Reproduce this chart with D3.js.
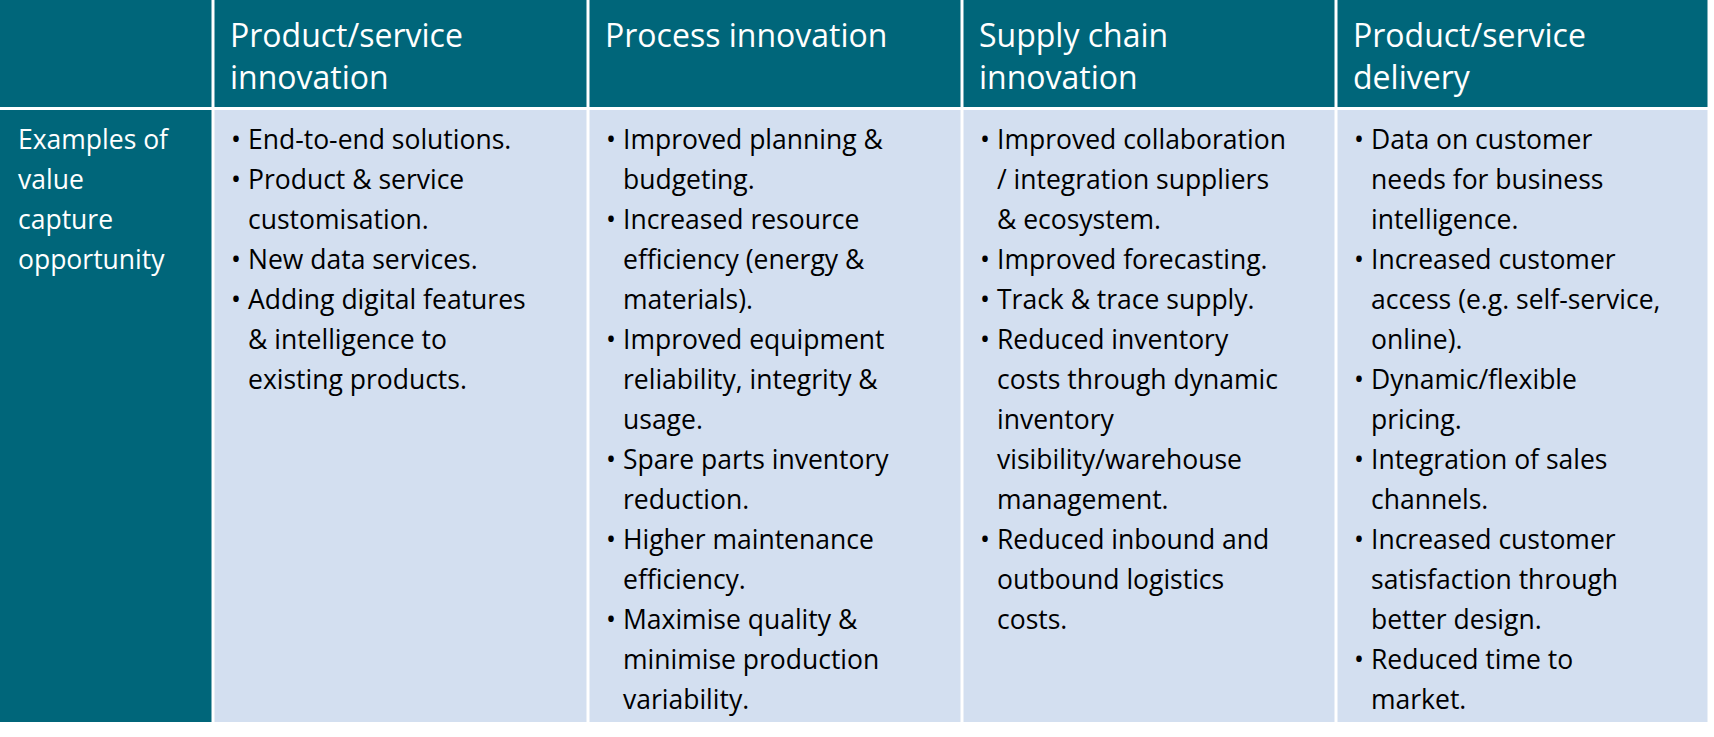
<!DOCTYPE html>
<html lang="en">
<head>
<meta charset="UTF-8">
<title>value capture table</title>
<script src="https://cdn.jsdelivr.net/npm/d3@7"></script>
<style>
  body { margin: 0; background: #fff; }
  text { font-family: "Open Sans", sans-serif; }
</style>
</head>
<body>
<svg id="main" width="1714" height="737"></svg>
<script>
  // column headers (already line-broken as in the picture)
  let headers = [
    [],
    ["Product/service", "innovation"],
    ["Process innovation"],
    ["Supply chain", "innovation"],
    ["Product/service", "delivery"]
  ]
  let rowLabel = ["Examples of", "value", "capture", "opportunity"]

  // each bullet is a list of wrapped lines
  let items = [
    [["End-to-end solutions."],
     ["Product & service", "customisation."],
     ["New data services."],
     ["Adding digital features", "& intelligence to", "existing products."]],
    [["Improved planning &", "budgeting."],
     ["Increased resource", "efficiency (energy &", "materials)."],
     ["Improved equipment", "reliability, integrity &", "usage."],
     ["Spare parts inventory", "reduction."],
     ["Higher maintenance", "efficiency."],
     ["Maximise quality &", "minimise production", "variability."]],
    [["Improved collaboration", "/ integration suppliers", "& ecosystem."],
     ["Improved forecasting."],
     ["Track & trace supply."],
     ["Reduced inventory", "costs through dynamic", "inventory", "visibility/warehouse", "management."],
     ["Reduced inbound and", "outbound logistics", "costs."]],
    [["Data on customer", "needs for business", "intelligence."],
     ["Increased customer", "access (e.g. self-service,", "online)."],
     ["Dynamic/flexible", "pricing."],
     ["Integration of sales", "channels."],
     ["Increased customer", "satisfaction through", "better design."],
     ["Reduced time to", "market."]]
  ]

  let teal = "#00667a", light = "#d3dff0"
  let svg = d3.select("#main")
  let edges = [0, 213, 588, 962, 1336, 1709]
  let x = i => edges[i]
  let headTop = 0, headBot = 107, bodyTop = 110, bodyBot = 722
  let lineH = 40

  // header cells
  headers.forEach(function (h, i) {
    svg.append("rect")
      .attr("x", x(i) + (i ? 1.5 : 0)).attr("y", headTop)
      .attr("width", x(i + 1) - x(i) - (i ? 3 : 1.5)).attr("height", headBot - headTop)
      .attr("fill", teal)
    svg.append("g").selectAll("text").data(h).join("text")
      .attr("x", x(i) + 17).attr("y", (d, k) => 47 + k * 42)
      .attr("fill", "#fff").attr("font-size", 32)
      .text(d => d)
  })

  // body: label cell
  svg.append("rect").attr("x", 0).attr("y", bodyTop)
    .attr("width", x(1) - 1.5).attr("height", bodyBot - bodyTop).attr("fill", teal)
  svg.append("g").selectAll("text").data(rowLabel).join("text")
    .attr("x", 18).attr("y", (d, k) => 149 + k * lineH)
    .attr("fill", "#fff").attr("font-size", 26.5)
    .text(d => d)

  // body: bullet cells
  items.forEach(function (col, c) {
    let i = c + 1
    svg.append("rect").attr("x", x(i) + 1.5).attr("y", bodyTop)
      .attr("width", x(i + 1) - x(i) - 3).attr("height", bodyBot - bodyTop).attr("fill", light)
    let g = svg.append("g")
    let row = 0
    col.forEach(function (lines) {
      g.append("text").attr("x", x(i) + 18).attr("y", 149 + row * lineH)
        .attr("font-size", 26.5).attr("fill", "#000").text("•")
      lines.forEach(function (l) {
        g.append("text").attr("x", x(i) + 35).attr("y", 149 + row * lineH)
          .attr("font-size", 26.5).attr("fill", "#000").text(l)
        row++
      })
    })
  })
</script>
</body>
</html>
